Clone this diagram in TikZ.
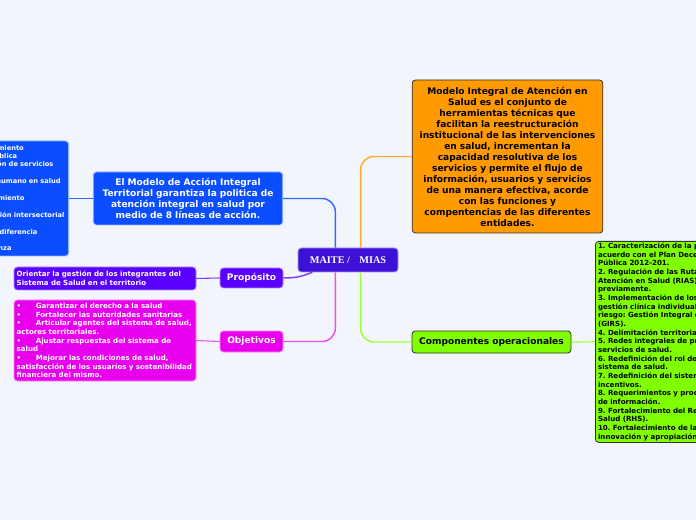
\documentclass[tikz,border=0pt]{standalone}
\usepackage{fontspec}
\setmainfont{DejaVu Sans}
\newfontfamily\titlefont{Liberation Serif}
\usetikzlibrary{positioning}
\frenchspacing

\definecolor{bgpage}{HTML}{F3F5FC}
\definecolor{maiteblue}{HTML}{3D12D6}
\definecolor{accionblue}{HTML}{0B4EFF}
\definecolor{propviolet}{HTML}{5A00FF}
\definecolor{objmagenta}{HTML}{E800EE}
\definecolor{miasorange}{HTML}{FF9A00}
\definecolor{compgreen}{HTML}{80FF00}
\definecolor{linkblue}{HTML}{2F6BFF}
\definecolor{linkorange}{HTML}{FFAA33}
\definecolor{linkmagenta}{HTML}{F04DF0}
\definecolor{linkgreen}{HTML}{99FF33}
\definecolor{linkviolet}{HTML}{7A3DFF}

\begin{document}
\begin{tikzpicture}[
    x=0.75pt, y=-0.75pt,
    topic/.style={rounded corners=2.5pt, inner sep=2pt, align=center, text=white,
      font=\bfseries\fontsize{6.8}{8.25}\selectfont, draw=white!55!#1, line width=0.6pt, fill=#1},
    darktopic/.style={topic=#1, text=black, draw=black!80},
    listbox/.style={rounded corners=2.5pt, inner xsep=2pt, inner ysep=1pt, align=left, text=white,
      font=\bfseries\fontsize{5.3}{6.5}\selectfont, draw=white!55!#1, line width=0.6pt, fill=#1},
    link/.style={line width=1.1pt, rounded corners=10pt},
    sublink/.style={line width=0.8pt}
  ]
    \fill[bgpage] (0,0) rectangle (696,520);
    \useasboundingbox (0,0) rectangle (696,520);

    \node[topic=maiteblue, font=\titlefont\bfseries\fontsize{7.7}{9}\selectfont,
      minimum width=75pt, minimum height=18pt] (central) at (348,260) {MAITE /\hspace{7pt}MIAS};

    \node[topic=accionblue, text width=138pt, minimum height=39.75pt] (model) at (188,198.5)
      {El Modelo de Acción Integral\\ Territorial garantiza la politica de\\
       atención integral en salud por\\ medio de 8 líneas de acción.};
    \node[listbox=accionblue, font=\bfseries\fontsize{5}{6}\selectfont, text width=74.5pt,
      minimum height=86.25pt, anchor=east] (lineas) at (69,198.5)
      {Aseguramiento\\ Salud pública\\ Prestación de servicios\\[6.6pt]
       Talento humano en salud\\[6.6pt] Financiamiento\\[6.6pt]
       Articulación intersectorial\\[6.6pt] Enfoque diferencia\\[6.6pt] Gobernanza};

    \node[topic=propviolet, minimum width=47.25pt, minimum height=15pt] (proposito) at (251.5,278) {Propósito};
    \node[listbox=propviolet, text width=132.5pt, minimum height=17.25pt] (orientar) at (105,278.5)
      {Orientar la gestión de los integrantes del\\ Sistema de Salud en el territorio};

    \node[topic=objmagenta, minimum width=47.25pt, minimum height=15.75pt] (objetivos) at (251.5,341.5) {Objetivos};
    \node[listbox=objmagenta, text width=132.5pt, minimum height=60.75pt] (metas) at (105,340.5)
      {•\hspace{11pt}Garantizar el derecho a la salud\\
       •\hspace{11pt}Fortalecer las autoridades sanitarias\\
       •\hspace{11pt}Articular agentes del sistema de salud,\\ actores territoriales.\\
       •\hspace{11pt}Ajustar respuestas del sistema de\\ salud\\
       •\hspace{11pt}Mejorar las condiciones de salud,\\
       satisfacción de los usuarios y sostenibilidad\\ financiera del mismo.};

    \node[darktopic=miasorange, text width=139pt, minimum height=114.75pt] (mias) at (507.5,156.5)
      {Modelo Integral de Atención en\\ Salud es el conjunto de\\ herramientas técnicas que\\
       facilitan la reestructuración\\ institucional de las intervenciones\\ en salud, incrementan la\\
       capacidad resolutiva de los\\ servicios y permite el flujo de\\ información, usuarios y servicios\\
       de una manera efectiva, acorde\\ con las funciones y\\ compentencias de las diferentes\\ entidades.};

    \node[darktopic=compgreen, minimum width=119.25pt, minimum height=16.5pt] (componentes) at (491.5,342)
      {Componentes operacionales};
    \node[listbox=compgreen, text=black, draw=black!80, text width=160pt, minimum height=150.75pt,
      anchor=north west] (rutas) at (595,241)
      {1. Caracterización de la población de\\ acuerdo con el Plan Decenal de Salud\\ Pública 2012-201.\\
       2. Regulación de las Rutas Integrales de\\ Atención en Salud (RIAS) definidas\\ previamente.\\
       3. Implementación de los modelos de\\ gestión clínica individual y gestión del\\
       riesgo: Gestión Integral del Riesgo en Salud\\ (GIRS).\\
       4. Delimitación territorial.\\
       5. Redes integrales de prestadores de\\ servicios de salud.\\
       6. Redefinición del rol del asegurador en el\\ sistema de salud.\\
       7. Redefinición del sistema de\\ incentivos.\\
       8. Requerimientos y procesos del sistema\\ de información.\\
       9. Fortalecimiento del Recurso Humano en\\ Salud (RHS).\\
       10. Fortalecimiento de la investigación,\\ innovación y apropiación del conocimiento.};

    \draw[link, linkblue] ([xshift=-9.5pt]central.north) |- (model.east);
    \draw[link, linkorange] ([xshift=9.5pt]central.north) |- (mias.west);
    \draw[link, linkmagenta] ([xshift=-9.5pt]central.south) |- (objetivos.east);
    \draw[link, linkgreen] ([xshift=9.5pt]central.south) |- (componentes.west);
    \draw[link, linkviolet] (proposito.east) .. controls +(16,0) and +(-9,3) .. ([xshift=11pt]central.south west);

    \draw[sublink, linkblue] (model.west) -- (lineas.east);
    \draw[sublink, linkviolet] (proposito.west) -- (orientar.east);
    \draw[sublink, linkmagenta] (objetivos.west) -- (metas.east);
    \draw[sublink, linkgreen] (componentes.east) -- (rutas.west);
\end{tikzpicture}
\end{document}
